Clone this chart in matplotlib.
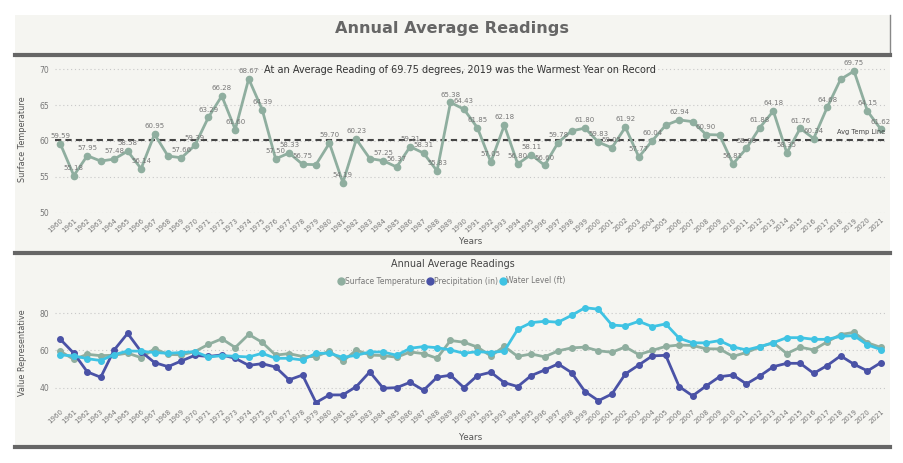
import numpy as np
import matplotlib.pyplot as plt
from matplotlib.patches import Rectangle
from matplotlib.lines import Line2D

# data
years = list(range(1960, 2022))

surface_temp = [59.59, 55.18, 57.95, 57.20, 57.48, 58.58, 56.14, 60.95, 57.90, 57.66,
                59.39, 63.29, 66.28, 61.60, 68.67, 64.39, 57.50, 58.33, 56.75, 56.70,
                59.70, 54.19, 60.23, 57.55, 57.25, 56.37, 59.21, 58.31, 55.83, 65.38,
                64.43, 61.85, 57.05, 62.18, 56.80, 58.11, 56.60, 59.78, 61.40, 61.80,
                59.83, 59.05, 61.92, 57.77, 60.04, 62.20, 62.94, 62.70, 60.90, 60.84,
                56.81, 58.96, 61.88, 64.18, 58.35, 61.76, 60.34, 64.68, 68.60, 69.75,
                64.15, 61.62]

precipitation = [66.0, 58.5, 48.5, 45.6, 60.3, 69.2, 59.4, 53.5, 51.3, 54.4,
                 57.4, 56.8, 57.6, 55.8, 52.0, 52.9, 51.1, 44.2, 46.8, 32.0,
                 36.1, 36.1, 40.6, 48.5, 39.7, 40.0, 42.9, 38.6, 45.6, 46.7,
                 40.0, 46.5, 48.3, 42.7, 40.6, 46.5, 49.5, 52.8, 48.1, 37.9,
                 33.0, 36.6, 47.4, 52.2, 57.1, 57.4, 40.6, 35.6, 40.9, 45.9,
                 46.8, 42.0, 46.3, 51.3, 53.1, 53.1, 47.7, 51.9, 57.1, 52.6,
                 49.0, 53.5]

water_level = [57.6, 57.1, 55.6, 54.6, 57.8, 59.7, 59.6, 58.9, 58.5, 58.9,
               59.4, 56.5, 57.2, 56.9, 56.5, 58.5, 55.8, 55.8, 54.9, 58.5,
               58.5, 56.3, 57.4, 59.2, 59.2, 57.4, 61.2, 62.1, 61.5, 60.3,
               58.5, 59.4, 58.9, 59.7, 71.4, 75.0, 75.7, 75.2, 78.9, 83.0,
               82.2, 73.7, 73.2, 75.7, 72.8, 74.3, 66.6, 64.1, 64.1, 65.3,
               61.9, 60.3, 62.1, 64.2, 66.9, 66.9, 66.0, 66.0, 67.6, 68.0,
               63.0, 60.5]

avg_temp = 60.2
hidden_labels = [1963, 1968, 1979, 1983, 1998, 2005, 2007, 2009, 2018]

temp_color = '#8fae9f'
precip_color = '#4a52a6'
water_color = '#3fc3e3'
panel_bg = '#f5f5f1'
text_gray = '#777777'

W, H = 904, 463
fig = plt.figure(figsize=(W / 100, H / 100), dpi=100)
fig.patch.set_facecolor('white')


def box(x0, y0, x1, y1):
    # pixel box (top-left origin) -> figure fraction rect
    return [x0 / W, 1 - y1 / H, (x1 - x0) / W, (y1 - y0) / H]


# background panel and separators
fig.patches.append(Rectangle((15 / W, 1 - 449 / H), 875 / W, 434 / H,
                             transform=fig.transFigure, facecolor=panel_bg,
                             edgecolor='none', zorder=-5))
fig.add_artist(Line2D([890 / W, 890 / W], [1 - 15 / H, 1 - 55 / H],
                      color='#888888', lw=1, transform=fig.transFigure))
for yy in [55, 253, 447]:
    fig.add_artist(Line2D([15 / W, 890 / W], [1 - yy / H, 1 - yy / H],
                          color='#666666', lw=3, transform=fig.transFigure))

fig.text(452 / W, 1 - 29 / H, 'Annual Average Readings', ha='center', va='center',
         fontsize=11.6, fontweight='bold', color='#666666')


def style_axes(ax, height_px, years_y_px, axes_bottom_px):
    ax.set_facecolor('none')
    for s in ax.spines.values():
        s.set_visible(False)
    ax.tick_params(length=0, labelsize=5.5, labelcolor=text_gray, pad=4)
    ax.tick_params(axis='x', labelsize=5, pad=3)
    ax.grid(axis='y', linestyle=(0, (1, 2.5)), color='#c8c8c8', lw=0.8)
    ax.set_axisbelow(True)
    ax.set_xlim(1959.6, 2021.45)
    ax.set_xticks(years)
    ax.set_xticklabels([str(y) for y in years], rotation=42, ha='right',
                       rotation_mode='anchor')
    ax.set_xlabel('Years', fontsize=6.3, color='#555555', va='center')
    ax.xaxis.set_label_coords(0.5, (axes_bottom_px - years_y_px) / height_px)


# top chart
ax1 = fig.add_axes(box(55, 65.7, 887, 212.7))
style_axes(ax1, 147.0, 242, 212.7)
ax1.set_ylim(50, 70.5)
ax1.set_yticks([50, 55, 60, 65, 70])
ax1.set_ylabel('Surface Temperature', fontsize=5.9, color='#555555', va='center')
ax1.yaxis.set_label_coords((23 - 55) / 832, 0.5)
ax1.plot(years, surface_temp, color=temp_color, lw=2, marker='o', ms=4.5, zorder=3)
ax1.axhline(avg_temp, color='#444444', lw=1.5, linestyle=(0, (3, 2)), zorder=2)
ax1.text(2021.3, avg_temp + 0.6, 'Avg Temp Line', fontsize=4.8, color='#444444',
         ha='right', va='bottom')
for yr, v in zip(years, surface_temp):
    if yr in hidden_labels:
        continue
    ax1.annotate(f'{v:.2f}', (yr, v), xytext=(0, 3.5), textcoords='offset points',
                 ha='center', va='bottom', fontsize=5, color=text_gray, zorder=4)
ax1.text((460 - 55) / 832, 1 - 4.5 / 147,
         'At an Average Reading of 69.75 degrees, 2019 was the Warmest Year on Record',
         transform=ax1.transAxes, ha='center', va='center', fontsize=7,
         color='#333333', zorder=5)

# bottom chart
ax2 = fig.add_axes(box(55, 300.3, 887, 404.4))
style_axes(ax2, 104.1, 438, 404.4)
ax2.set_ylim(31, 87)
ax2.set_yticks([40, 60, 80])
ax2.set_ylabel('Value Representative', fontsize=5.9, color='#555555', va='center')
ax2.yaxis.set_label_coords((23 - 55) / 832, 0.5)
ax2.plot(years, surface_temp, color=temp_color, lw=2, marker='o', ms=4, zorder=3,
         label='Surface Temperature')
ax2.plot(years, precipitation, color=precip_color, lw=2, marker='o', ms=4, zorder=3,
         label='Precipitation (in)')
ax2.plot(years, water_level, color=water_color, lw=2, marker='o', ms=4, zorder=3,
         label='Water Level (ft)')

fig.text(453 / W, 1 - 264 / H, 'Annual Average Readings', ha='center', va='center',
         fontsize=6.9, color='#444444')
handles = [Line2D([], [], color=c, marker='o', linestyle='none', ms=5)
           for c in [temp_color, precip_color, water_color]]
fig.legend(handles, ['Surface Temperature', 'Precipitation (in)', 'Water Level (ft)'],
           loc='center', bbox_to_anchor=(452 / W, 1 - 281 / H), ncol=3, frameon=False,
           fontsize=5.5, labelcolor=text_gray, handletextpad=0.05, columnspacing=0.3,
           handlelength=0.8)

plt.savefig('out.png', dpi=100, facecolor='white')
